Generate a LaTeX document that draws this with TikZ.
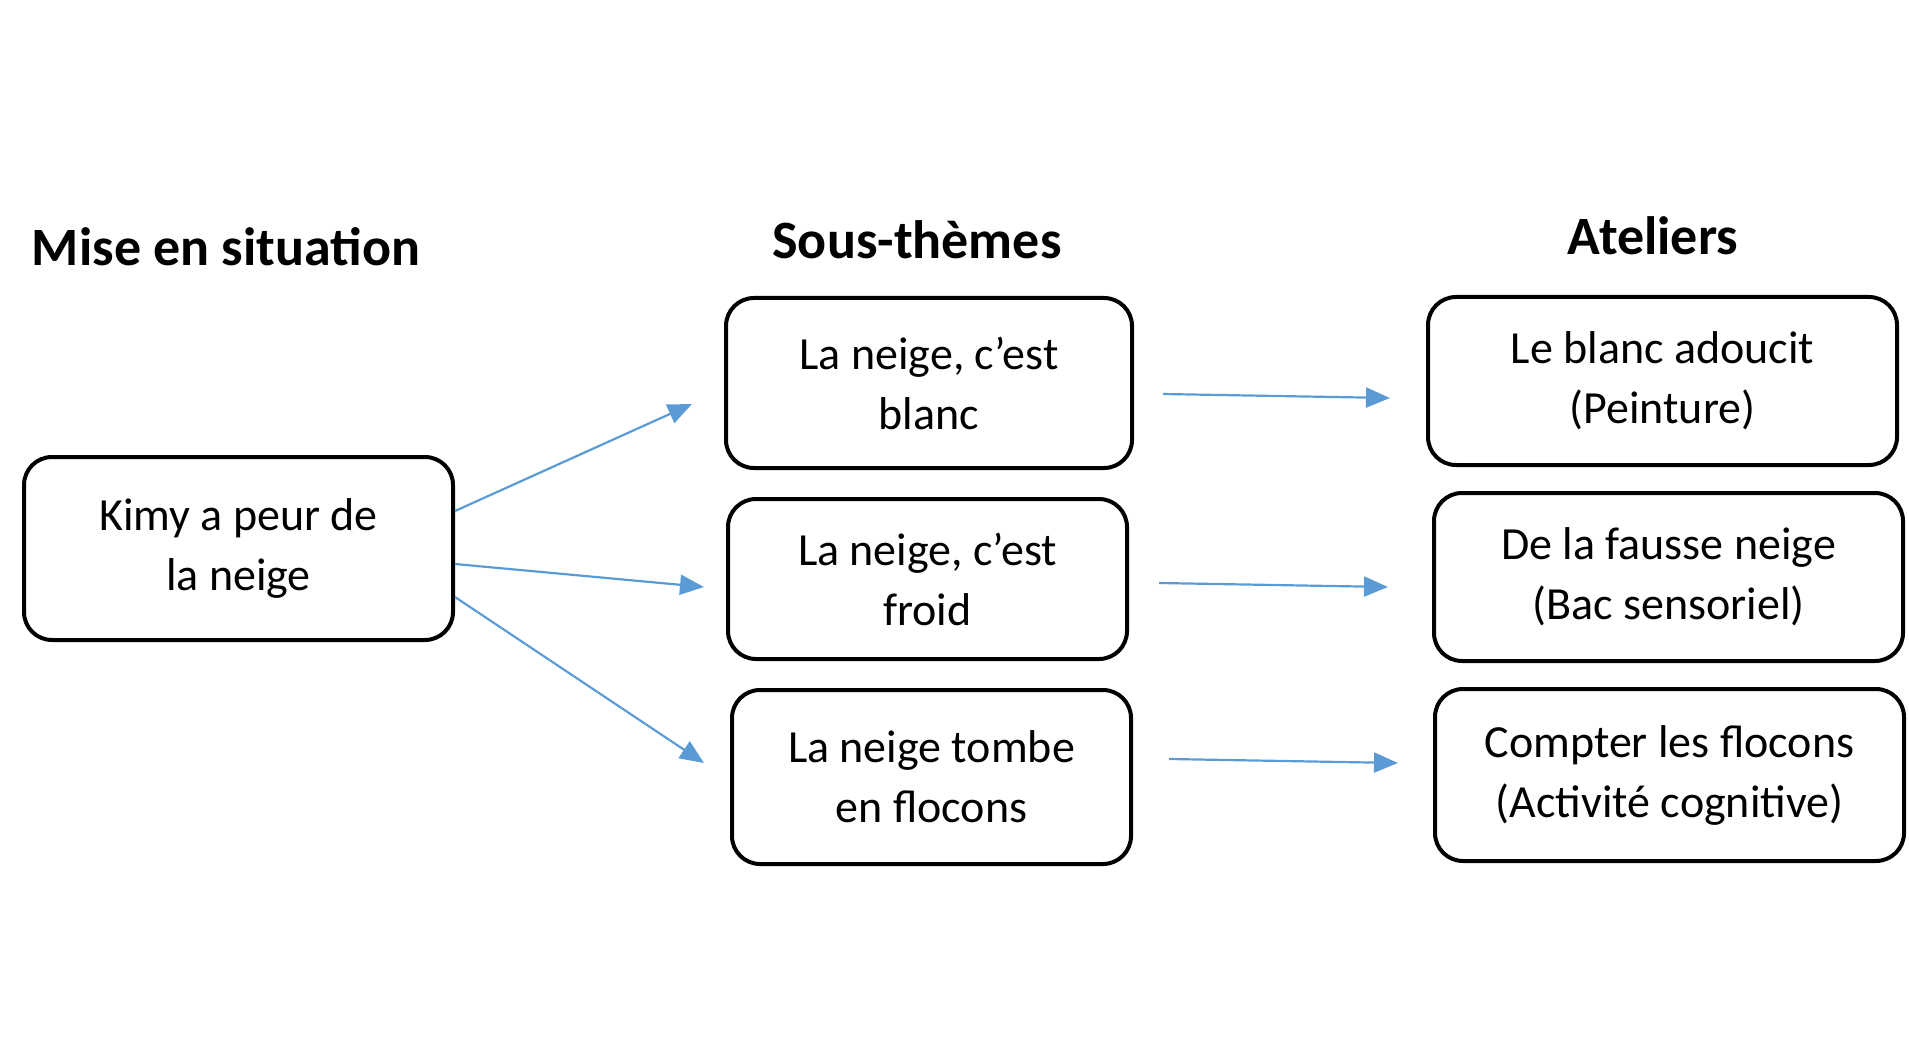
\documentclass[tikz,border=0pt]{standalone}
\usepackage{fontspec}
\setmainfont{Carlito}
\usetikzlibrary{arrows.meta}
\definecolor{arrowblue}{HTML}{5B9BD5}
\tikzset{
  box/.style={draw=black, line width=4pt, rounded corners=28pt, fill=white,
    align=center, inner sep=0pt, font=\fontsize{46}{60}\selectfont},
  head/.style={font=\bfseries\fontsize{54}{60}\selectfont, inner sep=0pt},
  arr/.style={draw=arrowblue, line width=2.2pt, -{Triangle[length=24pt,width=20pt]}}
}
\begin{document}
\begin{tikzpicture}[x=1pt,y=-1pt]
\useasboundingbox (0,0) rectangle (1909,1048);
% headers
\node[head] (h1) at (226,247) {Mise en situation};
\node[head] (h2) at (917,240) {Sous-thèmes};
\node[head] (h3) at (1653,236) {Ateliers};
% boxes
\node[box, minimum width=429pt, minimum height=183pt] (k) at (238.5,548.5) {Kimy a peur de\\la neige};
\node[box, minimum width=406pt, minimum height=170pt] (s1) at (929,383) {La neige, c’est\\blanc};
\node[box, minimum width=399pt, minimum height=160pt] (s2) at (927.5,579) {La neige, c’est\\froid};
\node[box, minimum width=399pt, minimum height=174pt] (s3) at (931.5,777) {La neige tombe\\en flocons};
\node[box, minimum width=469pt, minimum height=168pt] (a1) at (1662.5,381) {Le blanc adoucit\\(Peinture)};
\node[box, minimum width=469pt, minimum height=168pt] (a2) at (1668.5,577) {De la fausse neige\\(Bac sensoriel)};
\node[box, minimum width=469pt, minimum height=172pt] (a3) at (1669.5,775) {Compter les flocons\\(Activité cognitive)};
% free arrow ends
\coordinate (t1) at (692,404);
\coordinate (t2) at (704,587);
\coordinate (t3) at (704,763);
\coordinate (u1s) at (1163,394);
\coordinate (u1e) at (1390,398);
\coordinate (u2s) at (1159,583);
\coordinate (u2e) at (1388,587);
\coordinate (u3s) at (1169,759);
\coordinate (u3e) at (1398,763);
% arrows
\draw[arr] (k.east |- 0,511) -- (t1);
\draw[arr] (k.east |- 0,564) -- (t2);
\draw[arr] (k.east |- 0,597) -- (t3);
\draw[arr] (u1s) -- (u1e);
\draw[arr] (u2s) -- (u2e);
\draw[arr] (u3s) -- (u3e);
\end{tikzpicture}
\end{document}
